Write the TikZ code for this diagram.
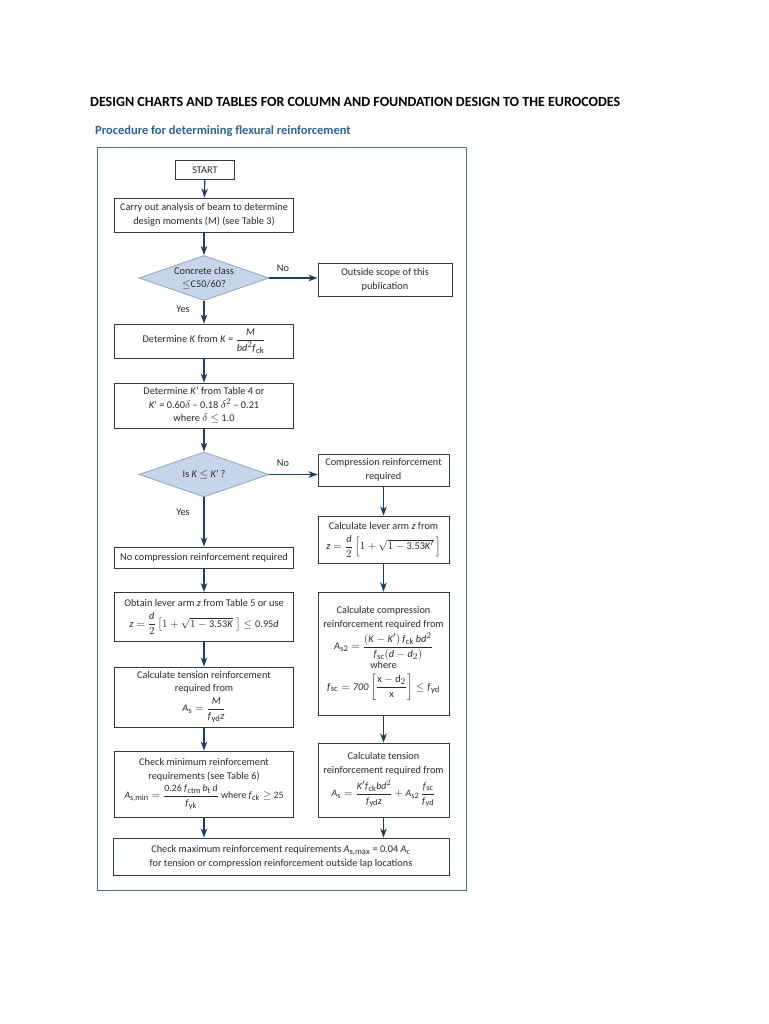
\documentclass[tikz,border=0pt]{standalone}
\usepackage{amsmath}
\usepackage{fontspec}
\setmainfont{Carlito}
\usetikzlibrary{shapes.geometric,arrows.meta}
\DeclareMathSizes{10.3}{11}{8.6}{7}
\DeclareMathSizes{9.8}{10.5}{8.2}{6.6}
\definecolor{navy}{HTML}{1C3F66}
\definecolor{boxline}{HTML}{2E3A46}
\definecolor{framecol}{HTML}{4F6E8C}
\definecolor{dfill}{HTML}{C6D5E7}
\definecolor{dline}{HTML}{8CA6C2}
\definecolor{subblue}{HTML}{2B6596}
\definecolor{txt}{HTML}{2A2A2A}
\newcommand{\iv}[1]{\textit{#1}}
\tikzset{
  box/.style={draw=boxline, line width=0.9pt, fill=white, align=center, inner sep=1pt,
    text=txt, font=\fontsize{10.3}{13.5}\selectfont},
  dec/.style={diamond, draw=dline, line width=0.8pt, fill=dfill, align=center, inner sep=0pt,
    aspect=3, text=txt, font=\fontsize{10.3}{13.5}\selectfont},
  flow/.style={draw=navy, line width=1.2pt, -{Stealth[length=9pt,width=6.5pt,inset=2.5pt]}},
  lbl/.style={text=txt, font=\fontsize{10.3}{12}\selectfont}
}
\begin{document}
\begin{tikzpicture}[x=1pt,y=-1pt]
\useasboundingbox (0,0) rectangle (768,1024);
\fill[white] (0,0) rectangle (768,1024);

\node[anchor=base west, inner sep=0, font=\bfseries\fontsize{14}{16}\selectfont] (title) at (90,107)
  {DESIGN CHARTS AND TABLES FOR COLUMN AND FOUNDATION DESIGN TO THE EUROCODES};
\node[anchor=base west, inner sep=0, text=subblue, font=\bfseries\fontsize{12.5}{14}\selectfont] (sub) at (95,135)
  {Procedure for determining flexural reinforcement};

\draw[framecol, line width=0.9pt] (97,147) rectangle (466,890);

% left column
\node[box, minimum width=59pt, minimum height=19pt] (start) at (205,170) {START};
\node[box, minimum width=179pt, minimum height=34pt] (anal) at (204,215)
  {Carry out analysis of beam to determine\\ design moments (M) (see Table 3)};
\node[dec, minimum width=130pt, minimum height=45pt] (d1) at (204,278)
  {Concrete class\\ $\le$C50/60?};
\node[box, minimum width=134pt, minimum height=33pt] (out) at (385,280)
  {Outside scope of this\\ publication};
\node[box, minimum width=179pt, minimum height=34pt] (detK) at (204,341)
  {Determine \iv{K} from \iv{K} = $\dfrac{\text{\iv{M}}}{\text{\iv{bd}}^2 \text{\iv{f}}_{\text{ck}}}$};
\node[box, minimum width=179pt, minimum height=45pt] (detKp) at (204,405.5)
  {Determine \iv{K}' from Table 4 or\\
   \iv{K}' = 0.60$\delta$ -- 0.18 $\delta^2$ -- 0.21\\
   where $\delta \le$ 1.0};
\node[dec, minimum width=130pt, minimum height=45pt] (d2) at (204,474.5)
  {Is \iv{K} $\le$ \iv{K}'\,?};
\node[box, minimum width=179pt, minimum height=21pt] (nocomp) at (204,557.5)
  {No compression reinforcement required};
\node[box, minimum width=179pt, minimum height=49pt] (obtain) at (204,617)
  {Obtain lever arm \iv{z} from Table 5 or use\\[5pt]
   $\text{\iv{z}} = \dfrac{\text{\iv{d}}}{2}\left[1+\sqrt{1-\text{3.53\iv{K}}}\;\right] \le \text{0.95\iv{d}}$};
\node[box, minimum width=179pt, minimum height=60pt] (tens) at (204,697)
  {Calculate tension reinforcement\\ required from\\[3pt]
   $\text{\iv{A}}_{\text{s}} = \dfrac{\text{\iv{M}}}{\text{\iv{f}}_{\text{yd}}\text{\iv{z}}}$};
\node[box, minimum width=179pt, minimum height=66pt] (chkmin) at (204,784)
  {Check minimum reinforcement\\ requirements (see Table 6)\\[3pt]
   {\fontsize{9.8}{12}\selectfont$\text{\iv{A}}_{\text{s,min}} = \dfrac{\text{0.26 \iv{f}}_{\text{ctm}}\,\text{\iv{b}}_{\text{t}}\,\text{\iv{d}}}{\text{\iv{f}}_{\text{yk}}}$ where \iv{f}$_{\text{ck}} \ge$ 25}};

% right column
\node[box, minimum width=131pt, minimum height=47pt] (lever) at (383.5,539.5)
  {Calculate lever arm \iv{z} from\\[5pt]
   $\text{\iv{z}} = \dfrac{\text{\iv{d}}}{2}\left[1+\sqrt{1-\text{3.53\iv{K}}'}\,\right]$};
\node[box, minimum width=131pt, minimum height=32pt] (comp) at (383.5,470)
  {Compression reinforcement\\ required};
\node[box, minimum width=131pt, minimum height=123pt] (compc) at (383.5,653.5)
  {Calculate compression\\ reinforcement required from\\[3pt]
   $\text{\iv{A}}_{\text{s2}} = \dfrac{(\text{\iv{K}}-\text{\iv{K}}')\,\text{\iv{f}}_{\text{ck}}\,\text{\iv{bd}}^2}{\text{\iv{f}}_{\text{sc}}(\text{\iv{d}}-\text{\iv{d}}_2)}$\\[0pt]
   where\\[5pt]
   $\text{\iv{f}}_{\text{sc}} = \text{\iv{700}}\left[\dfrac{\text{x}-\text{d}_2}{\text{x}}\right] \le \text{\iv{f}}_{\text{yd}}$};
\node[box, minimum width=131pt, minimum height=74pt] (tensR) at (383.5,780)
  {Calculate tension\\ reinforcement required from\\[4pt]
   {\fontsize{9.8}{12}\selectfont$\text{\iv{A}}_{\text{s}} = \dfrac{\text{\iv{K}}'\text{\iv{f}}_{\text{ck}}\text{\iv{bd}}^2}{\text{\iv{f}}_{\text{yd}}\text{\iv{z}}} + \text{\iv{A}}_{\text{s2}}\,\dfrac{\text{\iv{f}}_{\text{sc}}}{\text{\iv{f}}_{\text{yd}}}$}};

% bottom
\node[box, minimum width=336pt, minimum height=37pt] (maxr) at (281,856.5)
  {Check maximum reinforcement requirements \iv{A}$_{\text{s,max}}$ = 0.04 \iv{A}$_{\text{c}}$\\
   for tension or compression reinforcement outside lap locations};

% connectors
\draw[flow] (start) -- (anal);
\draw[flow] (anal) -- (d1);
\draw[flow] (d1.east) -- (d1.east -| out.west);
\draw[flow] (d1.south) -- (detK.north);
\draw[flow] (detK) -- (detKp);
\draw[flow] (detKp) -- (d2);
\draw[flow] (d2.east) -- (d2.east -| comp.west);
\draw[flow] (d2.south) -- (nocomp.north);
\draw[flow] (nocomp) -- (obtain);
\draw[flow] (obtain) -- (tens);
\draw[flow] (tens) -- (chkmin);
\draw[flow] (chkmin.south) -- (chkmin.south |- maxr.north);
\draw[flow] (comp) -- (lever);
\draw[flow] (lever) -- (compc);
\draw[flow] (compc) -- (tensR);
\draw[flow] (tensR.south) -- (tensR.south |- maxr.north);

\node[lbl] (no1) at (283,268) {No};
\node[lbl] (yes1) at (183,309) {Yes};
\node[lbl] (no2) at (283,463) {No};
\node[lbl] (yes2) at (183,512) {Yes};
\end{tikzpicture}
\end{document}
